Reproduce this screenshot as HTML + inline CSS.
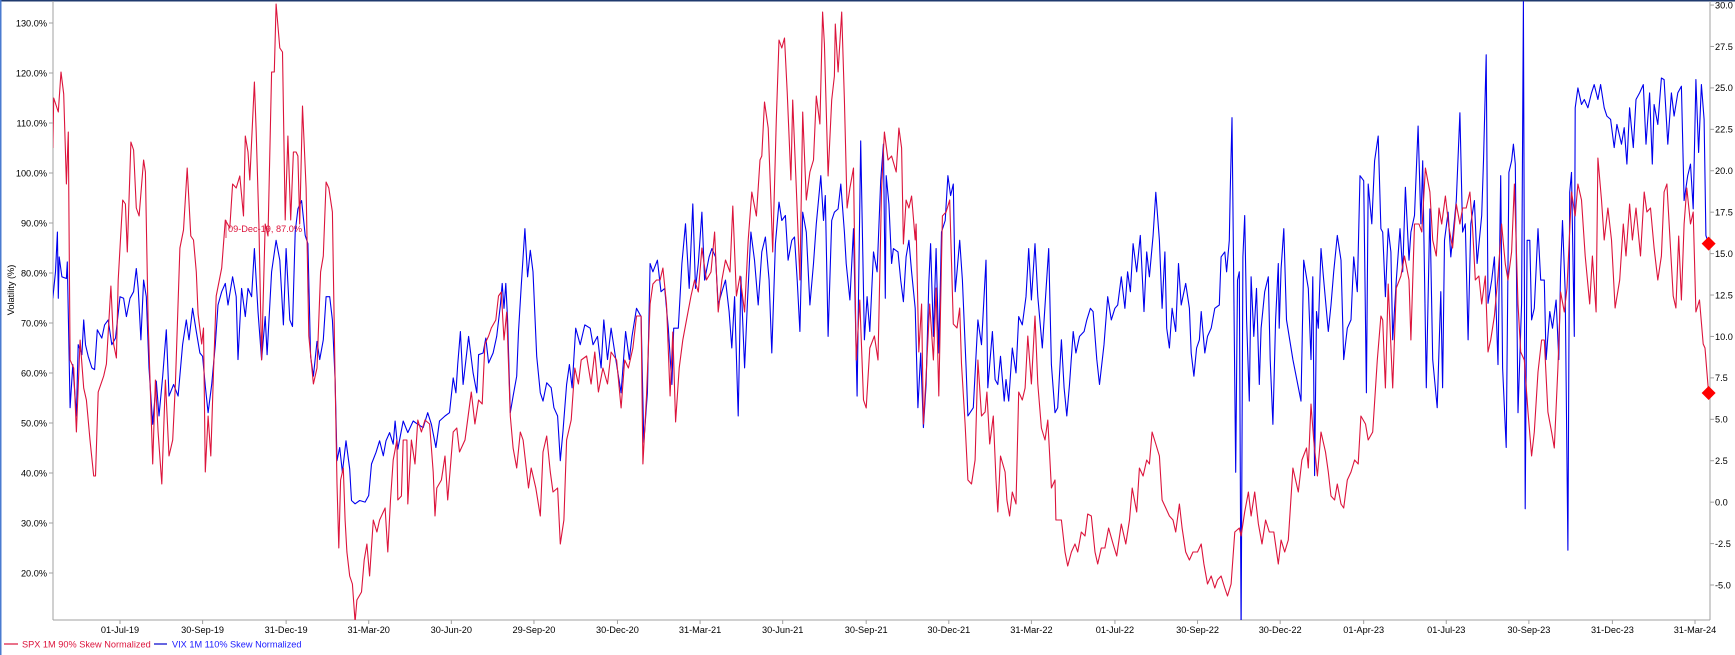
<!DOCTYPE html>
<html><head><meta charset="utf-8"><style>
html,body{margin:0;padding:0;background:#fff;}
svg{display:block;font-family:"Liberation Sans",Arial,sans-serif;}
</style></head><body>
<svg id="chart" width="1735" height="655" viewBox="0 0 1735 655" xmlns="http://www.w3.org/2000/svg">
<rect x="0" y="0" width="1735" height="655" fill="#fff"/>
<line x1="0" y1="0.5" x2="1735" y2="0.5" stroke="#1f3a6e" stroke-width="2"/>
<line x1="0.5" y1="0" x2="0.5" y2="655" stroke="#4a7bd0" stroke-width="2"/>
<defs><clipPath id="plotclip"><rect x="53" y="1" width="1657" height="619"/></clipPath></defs>
<g id="axes"></g>
<g id="series" clip-path="url(#plotclip)"></g>
<g id="markers"></g>
<text x="228" y="232" font-size="9.2" fill="#dc143c">09-Dec-19, 87.0%</text>
<line x1="226" y1="220" x2="226" y2="238" stroke="#dc143c" stroke-width="0.8"/>
<g>
<line x1="4" y1="644" x2="18" y2="644" stroke="#dc143c" stroke-width="1.2"/>
<text x="22" y="647.5" font-size="9.2" fill="#dc143c">SPX 1M 90% Skew Normalized</text>
<line x1="154" y1="644" x2="167" y2="644" stroke="#0000cc" stroke-width="1.2"/>
<text x="172" y="647.5" font-size="9.2" fill="#1a1aff">VIX 1M 110% Skew Normalized</text>
</g>
<text transform="translate(14,290) rotate(-90)" text-anchor="middle" font-size="9.2" fill="#000">Volatility (%)</text>
</svg>
<script>
const leftTicks=[20,30,40,50,60,70,80,90,100,110,120,130];
const rightTicks=[-5,-2.5,0,2.5,5,7.5,10,12.5,15,17.5,20,22.5,25,27.5,30];
const xTickDays=[0,91,183,274,365,456,548,639,730,822,913,1004,1096,1187,1278,1370,1461,1552,1644,1735];
const xTickLabels=["01-Jul-19","30-Sep-19","31-Dec-19","31-Mar-20","30-Jun-20","29-Sep-20","30-Dec-20","31-Mar-21","30-Jun-21","30-Sep-21","30-Dec-21","31-Mar-22","01-Jul-22","30-Sep-22","30-Dec-22","01-Apr-23","01-Jul-23","30-Sep-23","31-Dec-23","31-Mar-24"];
const redDays=[-74,-73,-68,-65,-62,-59,-57,-55,-51,-48,-44,-40,-37,-33,-29,-27,-24,-18,-15,-10,-7,-4,-2,3,6,8,12,15,18,21,26,28,31,36,39,42,46,50,54,58,61,66,70,74,78,81,84,86,90,92,94,97,100,103,106,112,116,121,124,128,132,136,138,141,143,148,150,153,156,160,163,167,170,172,176,179,182,185,188,191,194,196,198,201,205,208,213,217,221,224,227,230,234,237,239,241,243,246,248,250,253,256,259,261,266,269,272,275,279,283,286,292,295,298,301,305,306,310,312,316,317,321,325,328,332,336,341,345,347,349,354,358,361,367,371,374,380,387,391,395,399,402,406,409,414,417,420,423,426,430,433,437,441,444,447,450,453,458,463,466,470,474,477,482,485,489,492,497,501,505,508,514,519,523,527,532,537,541,547,552,556,560,565,569,574,576,580,584,587,591,595,598,602,606,609,612,616,620,624,629,633,637,641,646,651,655,659,663,667,672,675,679,683,688,692,696,701,705,707,710,714,717,719,723,726,729,732,735,739,741,745,749,752,756,760,764,767,771,774,776,780,784,787,788,791,795,798,801,804,808,811,815,819,822,826,831,835,839,842,846,850,855,858,861,863,866,869,872,876,877,880,883,885,888,892,896,899,902,906,910,914,918,922,925,927,931,934,938,942,945,949,953,955,958,962,965,967,970,975,977,980,983,987,990,994,997,1000,1004,1008,1011,1015,1019,1022,1026,1030,1031,1037,1041,1044,1048,1052,1055,1059,1063,1066,1070,1074,1077,1081,1085,1089,1094,1098,1103,1108,1112,1115,1120,1123,1127,1131,1134,1137,1141,1145,1148,1152,1156,1160,1163,1167,1170,1174,1178,1182,1187,1191,1194,1198,1202,1206,1209,1213,1217,1220,1224,1228,1233,1235,1239,1243,1246,1250,1254,1258,1262,1266,1271,1276,1279,1283,1287,1289,1292,1298,1302,1307,1309,1312,1315,1319,1323,1328,1331,1334,1338,1341,1345,1348,1352,1356,1360,1364,1367,1372,1375,1380,1385,1389,1391,1394,1397,1402,1406,1411,1415,1420,1422,1426,1431,1434,1438,1443,1446,1450,1453,1456,1460,1464,1468,1472,1476,1479,1483,1487,1490,1493,1497,1500,1504,1507,1510,1514,1518,1522,1526,1529,1533,1536,1540,1543,1547,1551,1555,1558,1562,1566,1569,1573,1577,1580,1584,1587,1591,1594,1599,1603,1606,1610,1614,1619,1622,1626,1628,1632,1635,1639,1643,1647,1652,1656,1659,1663,1666,1670,1675,1679,1682,1686,1690,1694,1698,1701,1704,1708,1711,1714,1717,1720,1723,1726,1730,1733,1736,1740,1744,1746,1750];
const redVals=[105.0,115.0,112.2,120.2,115.8,97.8,108.2,62.6,61.0,48.2,66.6,57.0,54.6,46.6,39.4,39.4,56.2,59.4,61.8,77.4,65.8,63.0,78.6,94.6,93.8,84.2,106.2,104.6,93.0,91.4,102.6,100.2,70.6,41.8,58.6,48.2,37.8,58.6,43.4,46.6,57.8,85.0,88.6,101.0,87.4,86.6,80.2,71.8,65.8,69.0,40.2,51.4,43.4,60.2,75.4,81.0,90.6,89.0,97.8,97.0,99.4,91.4,107.4,104.2,98.6,118.2,108.2,89.8,62.6,89.8,87.4,120.2,120.2,133.8,125.0,124.2,90.6,107.4,90.6,104.2,104.2,103.4,89.8,113.4,97.0,67.4,57.8,61.0,80.2,83.4,98.2,97.0,92.2,58.6,37.8,25.0,38.6,41.0,30.6,24.2,19.4,17.8,10.2,14.6,16.2,22.6,25.8,19.4,30.6,28.2,30.6,33.0,24.2,34.6,42.6,46.6,34.6,35.4,46.6,46.6,33.8,46.6,41.8,50.6,48.2,50.6,49.8,40.2,31.4,37.0,38.6,43.4,34.6,48.2,49.0,44.2,46.6,56.2,49.8,54.6,53.8,65.8,67.4,69.0,70.6,75.4,76.2,66.6,72.2,51.4,45.0,41.0,48.2,46.6,41.8,37.0,41.0,37.0,31.4,44.2,47.4,40.2,36.2,37.0,25.8,30.6,46.6,50.6,61.0,57.8,62.6,63.4,57.8,64.2,56.2,61.0,57.8,64.2,62.6,53.0,62.6,61.0,65.0,71.4,71.4,41.8,55.4,73.8,77.8,78.6,78.6,81.0,73.8,55.4,68.2,50.2,61.0,66.6,70.6,75.4,78.6,76.2,85.0,78.6,80.2,88.2,72.2,78.6,82.6,80.2,93.4,75.4,79.4,72.2,86.6,96.2,91.4,102.6,103.4,114.2,109.0,94.6,84.2,110.6,126.6,125.0,127.0,116.2,98.6,114.6,97.0,78.6,112.2,94.6,100.2,102.6,115.4,109.8,132.2,125.8,99.4,114.6,119.4,129.8,120.2,132.2,114.6,93.0,97.0,101.0,62.6,74.6,54.6,53.0,65.0,67.4,62.6,97.0,108.2,102.6,103.4,100.2,109.0,105.0,85.8,94.6,93.0,95.4,86.6,89.8,64.2,73.8,49.8,59.4,73.8,62.6,77.0,55.4,91.4,92.2,94.6,69.8,69.0,73.0,61.8,49.8,38.6,37.8,42.6,62.6,51.4,52.2,56.2,45.8,51.4,38.6,32.2,43.4,40.2,34.6,31.4,36.2,33.8,56.2,54.6,57.0,67.4,57.8,71.4,57.8,49.0,46.6,50.6,37.0,38.6,30.6,30.6,24.2,21.4,24.2,25.8,24.2,28.2,27.4,31.8,31.4,24.2,21.8,25.0,25.0,29.0,25.8,23.4,29.8,25.8,30.6,37.0,32.2,41.0,39.4,42.6,41.8,48.2,45.8,43.4,34.6,33.0,31.4,30.6,28.2,33.8,29.0,24.2,22.6,24.2,24.2,25.8,21.8,17.8,19.4,17.0,18.6,19.4,17.0,15.4,17.8,28.2,29.0,27.4,32.2,36.2,31.4,36.2,29.8,25.8,30.6,28.2,28.2,21.8,26.6,24.2,26.6,32.2,41.0,36.2,42.6,45.0,41.0,53.8,46.6,39.4,48.2,44.2,40.2,35.4,34.6,37.8,33.8,33.0,38.6,40.2,42.6,41.8,51.4,49.8,46.6,48.2,62.6,71.4,70.6,57.0,77.8,57.0,77.0,79.4,83.4,78.6,66.6,89.8,89.8,88.2,101.0,96.2,86.6,83.4,93.0,89.8,95.4,89.0,85.0,93.8,89.8,93.0,93.0,96.2,89.0,78.6,79.4,73.8,79.4,64.2,66.6,71.4,79.4,89.8,81.8,78.6,84.2,97.8,73.8,64.2,62.6,52.2,43.4,48.2,60.2,66.6,66.6,52.2,48.2,45.0,61.0,76.2,72.2,77.0,96.2,91.4,97.8,94.6,83.4,73.8,83.4,72.2,103.0,94.6,86.6,93.0,86.6,73.0,78.6,89.8,83.4,93.8,86.6,93.0,83.4,96.2,92.2,93.0,85.0,78.6,83.4,96.2,97.8,85.0,75.4,73.0,87.4,74.6,89.8,97.0,89.8,92.2,72.2,74.6,65.8,65.0,56.0];
const blueDays=[-74,-71,-69,-68,-67,-64,-59,-58,-55,-52,-48,-46,-42,-40,-38,-35,-31,-28,-25,-20,-17,-13,-9,-5,0,4,7,11,15,18,20,23,26,29,32,36,40,43,47,51,54,59,64,69,73,76,80,84,88,91,94,97,101,105,108,112,116,119,124,128,130,134,138,141,145,148,152,156,160,162,167,172,176,180,183,187,190,193,196,200,204,207,210,213,217,220,224,227,231,234,237,239,242,245,249,253,255,259,264,270,274,277,282,286,290,293,297,301,303,306,312,317,323,328,334,339,343,348,352,358,363,367,370,372,375,378,384,389,393,395,400,403,406,411,415,419,421,423,425,427,430,433,437,439,442,446,449,452,455,459,463,466,470,475,478,482,485,488,492,495,498,502,507,512,518,521,526,530,533,537,541,547,552,557,561,564,569,574,577,581,584,587,592,596,600,604,608,610,615,619,623,627,631,634,637,641,644,649,652,656,659,663,667,671,674,677,681,684,688,691,695,699,703,707,711,715,718,722,726,729,733,736,740,743,746,749,752,756,760,764,767,772,775,777,780,784,787,791,794,798,800,804,808,812,816,820,823,826,830,834,838,841,843,844,847,850,852,857,860,863,866,869,872,876,879,882,885,888,891,893,896,899,902,905,909,912,915,918,920,922,925,928,932,934,940,945,949,954,956,961,964,967,970,974,976,979,983,987,990,994,998,1001,1004,1008,1011,1016,1020,1023,1026,1030,1033,1037,1040,1043,1046,1050,1053,1057,1062,1065,1069,1072,1076,1079,1084,1088,1092,1096,1099,1103,1107,1110,1113,1116,1120,1124,1128,1131,1134,1138,1141,1145,1148,1151,1153,1156,1159,1163,1166,1169,1174,1178,1180,1183,1186,1189,1191,1195,1198,1202,1206,1211,1213,1217,1219,1222,1223,1225,1227,1229,1231,1233,1235,1237,1239,1241,1244,1246,1249,1252,1255,1257,1261,1265,1267,1270,1273,1276,1277,1279,1282,1285,1292,1301,1304,1309,1312,1314,1316,1318,1320,1323,1326,1331,1334,1337,1341,1345,1348,1352,1356,1359,1363,1366,1370,1373,1375,1379,1382,1386,1389,1391,1394,1397,1400,1402,1406,1410,1413,1416,1420,1422,1426,1430,1433,1435,1439,1443,1446,1451,1455,1457,1459,1463,1466,1472,1476,1479,1482,1485,1488,1492,1495,1500,1502,1505,1507,1511,1514,1518,1521,1523,1527,1530,1533,1535,1537,1540,1544,1546,1548,1550,1553,1555,1558,1562,1565,1569,1571,1575,1578,1582,1585,1587,1589,1592,1595,1597,1599,1602,1603,1606,1610,1613,1617,1621,1624,1628,1631,1635,1638,1642,1646,1649,1654,1657,1660,1663,1667,1670,1674,1678,1681,1685,1688,1690,1694,1698,1701,1705,1709,1712,1716,1720,1723,1727,1730,1733,1736,1739,1742,1745,1747,1750];
const blueVals=[12.3,13.9,16.3,12.3,14.8,13.6,13.5,14.5,5.7,8.3,5.2,9.5,8.9,11.0,9.5,8.8,8.1,8.0,10.4,9.9,10.7,11.0,9.5,9.9,12.4,12.3,11.2,12.3,12.7,14.1,12.9,9.8,13.4,12.4,8.1,4.7,7.3,5.2,7.6,10.4,6.4,7.1,6.4,9.5,11.0,9.8,11.7,10.3,9.0,8.8,7.0,5.4,7.1,9.5,11.9,12.7,13.2,11.9,13.6,12.4,8.6,12.9,11.2,12.9,12.4,15.3,11.5,8.6,11.2,8.9,13.9,15.8,14.6,10.7,15.3,11.0,10.6,16.3,17.7,18.2,16.1,15.6,8.8,7.6,9.7,8.6,9.8,12.4,12.4,11.0,7.4,2.5,3.3,1.8,3.7,2.0,0.1,-0.1,0.1,0.0,0.4,2.3,3.0,3.7,2.8,3.7,4.2,3.5,4.9,3.2,4.9,4.2,4.9,4.7,4.5,5.4,4.7,3.3,4.9,5.2,5.4,7.5,6.6,8.3,10.3,7.1,10.0,7.8,6.6,8.9,9.0,9.9,8.4,9.0,10.0,11.9,13.2,11.7,13.2,11.0,5.4,6.4,7.6,10.3,13.0,16.5,13.6,15.2,13.9,8.8,6.6,6.1,7.2,6.9,5.7,5.2,2.5,4.3,7.1,8.3,6.9,10.5,9.5,10.7,10.5,9.5,10.0,8.1,11.0,8.6,10.5,8.3,6.6,10.3,8.6,10.0,11.7,11.2,3.6,6.6,14.4,13.9,14.6,12.7,12.9,10.5,7.1,10.5,10.5,14.4,16.8,12.9,18.0,12.9,14.4,17.5,13.4,14.8,15.3,14.8,11.9,12.7,13.4,11.5,9.3,12.4,5.2,13.6,8.1,11.9,16.3,14.6,11.9,15.1,16.0,13.4,9.0,15.6,18.1,17.0,17.3,14.6,15.8,16.0,13.4,10.3,17.5,16.3,11.9,14.4,16.8,19.7,17.0,18.5,10.0,17.0,17.5,17.7,19.2,16.3,14.4,12.2,16.5,6.4,21.8,9.8,12.4,10.3,15.1,13.9,19.4,21.6,12.3,19.7,18.0,14.4,15.3,15.1,13.4,12.1,14.8,15.8,13.9,11.7,5.7,9.0,4.5,7.1,13.2,15.6,10.0,15.3,9.0,16.3,17.0,19.7,18.5,19.2,12.7,13.9,15.8,13.4,8.1,5.2,5.7,11.0,9.5,14.6,6.9,10.3,7.4,7.1,8.8,6.1,7.4,6.1,9.3,7.8,11.2,10.7,12.4,15.3,12.2,15.6,12.4,9.3,12.7,15.3,8.3,5.4,5.7,9.8,6.9,5.2,7.1,10.3,9.0,10.0,10.3,11.0,11.7,11.5,8.6,7.1,9.5,12.4,11.0,11.7,11.9,13.6,11.7,13.9,12.7,15.6,13.9,16.1,11.5,15.1,13.6,16.1,18.7,15.8,11.7,15.1,10.5,9.3,11.7,10.3,14.4,11.9,13.2,11.7,9.0,7.6,9.3,9.8,11.5,9.0,10.0,10.5,11.7,11.9,14.8,15.1,13.9,15.8,18.7,23.2,12.9,1.8,13.4,13.9,-8.0,14.8,17.3,11.0,6.1,13.6,10.0,12.9,7.1,10.5,12.7,13.6,8.6,4.7,11.0,14.4,10.5,14.1,16.5,11.0,8.6,6.1,14.6,12.9,8.6,13.6,1.6,11.5,10.5,15.3,13.4,10.3,11.9,13.9,16.1,14.6,8.6,10.5,11.0,14.8,12.7,19.7,19.4,6.6,19.2,16.8,20.6,22.1,16.5,16.3,12.4,16.5,15.1,9.8,13.4,16.5,13.9,19.0,14.6,16.3,17.3,22.7,16.8,20.6,6.9,17.7,8.6,5.7,12.7,6.9,15.8,17.5,14.8,18.2,23.5,16.3,16.8,9.8,16.8,18.2,14.4,17.3,20.6,27.0,12.0,13.4,14.8,8.3,19.7,8.1,3.3,19.9,20.6,21.6,20.4,5.4,12.0,30.2,-0.4,15.8,15.8,11.0,11.7,16.5,13.4,13.4,8.6,11.5,10.5,12.2,8.6,13.9,17.0,12.7,-2.9,18.7,19.9,10.0,23.8,25.0,24.0,24.3,23.8,24.7,25.2,24.3,25.2,23.8,23.3,23.1,21.4,22.8,21.6,22.6,20.4,23.8,21.4,24.3,24.7,25.2,21.6,24.7,20.4,24.0,22.8,25.6,25.5,21.6,24.7,23.3,24.7,25.1,18.2,19.7,20.4,17.7,25.5,21.1,25.2,23.1,16.1,15.6];

const NS="http://www.w3.org/2000/svg";
const PL=53,PR=1710,PB=620;
function xScale(d){return 120+d*(1575/1735);}
function yLeft(v){return 573-(v-20)*5.0;}
function yRight(v){return 585-(v+5)*16.57;}
function mk(tag,attrs,parent){const e=document.createElementNS(NS,tag);for(const k in attrs)e.setAttribute(k,attrs[k]);parent.appendChild(e);return e;}
const axes=document.getElementById('axes');
let el=mk('line',{x1:PL,y1:1,x2:PL,y2:PB,stroke:'#a0a0a0','stroke-width':1},axes);


el=mk('line',{x1:PR,y1:1,x2:PR,y2:PB,stroke:'#a0a0a0','stroke-width':1},axes);


el=mk('line',{x1:PL,y1:PB,x2:PR,y2:PB,stroke:'#a0a0a0','stroke-width':1},axes);


leftTicks.forEach(v=>{const y=yLeft(v);
 const t=mk('line',{x1:PL-4,y1:y,x2:PL,y2:y,stroke:'#a0a0a0'},axes);
 
 
 const l=mk('text',{x:PL-6,y:y+3.3,'text-anchor':'end','font-size':9.2,fill:'#000'},axes);
 l.textContent=v.toFixed(1)+'%';
 
 
});
rightTicks.forEach(v=>{const y=yRight(v);
 const t=mk('line',{x1:PR,y1:y,x2:PR+4,y2:y,stroke:'#a0a0a0'},axes);
 
 
 const l=mk('text',{x:PR+5,y:y+3.3,'font-size':9.2,fill:'#000'},axes);
 l.textContent=v.toFixed(1);
 
 
});
xTickDays.forEach((d,i)=>{const x=xScale(d);
 const t=mk('line',{x1:x,y1:PB,x2:x,y2:PB+4,stroke:'#a0a0a0'},axes);
 
 
 const l=mk('text',{x:x,y:633,'text-anchor':'middle','font-size':9.2,fill:'#000'},axes);
 l.textContent=xTickLabels[i];
 
 
});
const series=document.getElementById('series');
function pathFor(days,vals,ys){return days.map((d,i)=>(i?'L':'M')+xScale(d).toFixed(1)+' '+ys(vals[i]).toFixed(1)).join(' ');}
const bp=mk('path',{d:pathFor(blueDays,blueVals,yRight),fill:'none',stroke:'#0000ee','stroke-width':1.1,'stroke-linejoin':'round'},series);


const rp=mk('path',{d:pathFor(redDays,redVals,yLeft),fill:'none',stroke:'#dc143c','stroke-width':1.1,'stroke-linejoin':'round'},series);


const markers=document.getElementById('markers');
function diamond(x,y){return `M${x} ${y-7} L${x+7} ${y} L${x} ${y+7} L${x-7} ${y} Z`;}
const lb=blueDays.length-1, lr=redDays.length-1;
const md1=mk('path',{d:diamond(xScale(blueDays[lb]),yRight(blueVals[lb])),fill:'#ff0000'},markers);


const md2=mk('path',{d:diamond(xScale(redDays[lr]),yLeft(redVals[lr])),fill:'#ff0000'},markers);


</script>
</body></html>
